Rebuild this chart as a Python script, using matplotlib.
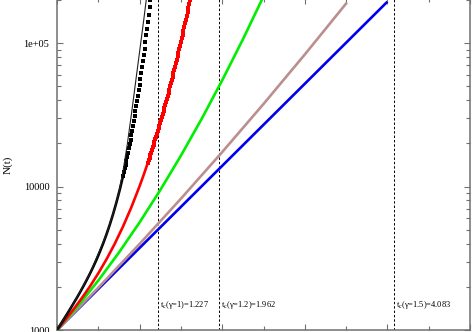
import matplotlib
matplotlib.use('Agg')
import matplotlib.pyplot as plt
from matplotlib.ticker import FixedLocator, FixedFormatter, MultipleLocator, NullFormatter, LogLocator

plt.rcParams['font.family'] = ['Liberation Serif', 'DejaVu Serif']
plt.rcParams['mathtext.fontset'] = 'stix'

# ---------------- data ----------------
# black square-marker series
black_dot_t = [0, 0.04, 0.08, 0.12, 0.16, 0.20, 0.24, 0.28, 0.32, 0.36, 0.40, 0.44, 0.48,
               0.52, 0.56, 0.60, 0.64, 0.68, 0.72, 0.76,
               0.80, 0.81, 0.82, 0.83, 0.84, 0.85, 0.86, 0.87, 0.88, 0.89,
               0.90, 0.91, 0.92, 0.93, 0.94, 0.95, 0.96, 0.97, 0.98, 0.99,
               1.00, 1.01, 1.02, 1.03, 1.04, 1.05, 1.06, 1.07, 1.08, 1.09,
               1.10, 1.11, 1.12, 1.13]
black_dot_n = [1000, 1087, 1183, 1287, 1403, 1532, 1675, 1837, 2022, 2233, 2478, 2767, 3109,
               3523, 4028, 4655, 5444, 6454, 7770, 9513,
               11869, 12584, 13359, 14203, 15120, 16120, 17210, 18402, 19707, 21137,
               22708, 24435, 26337, 28436, 30754, 33323, 36168, 39332, 42855, 46781,
               51168, 56081, 61588, 67779, 74754, 82621, 91509, 101590, 113040, 126070,
               140950, 157950, 177450, 199830]

# thin black line
black_line_t = [0, 0.2, 0.4, 0.6, 0.7, 0.75, 0.8, 0.85, 0.9, 0.95, 1.0, 1.05, 1.1]
black_line_n = [1000, 1532, 2478, 4655, 7063, 9120, 12880, 19500, 31620, 52480, 87100, 144540, 245470]

# red series: dense part (drawn as line) and upper square markers
red_line_t = [0, 0.1, 0.2, 0.3, 0.4, 0.5, 0.6, 0.7, 0.8, 0.9, 1.0, 1.05, 1.1]
red_line_n = [1000, 1177, 1394, 1666, 2018, 2483, 3116, 4001, 5274, 7165, 10060, 12081, 14652]
red_dot_t = [1.10, 1.11, 1.12, 1.13, 1.14, 1.15, 1.16, 1.17, 1.18, 1.19,
             1.20, 1.21, 1.22, 1.23, 1.24, 1.25, 1.26, 1.27, 1.28, 1.29,
             1.30, 1.31, 1.32, 1.33, 1.34, 1.35, 1.36, 1.37, 1.38, 1.39,
             1.40, 1.41, 1.42, 1.43, 1.44, 1.45, 1.46, 1.47, 1.48, 1.49,
             1.50, 1.51, 1.52, 1.53, 1.54, 1.55, 1.56, 1.57, 1.58, 1.59,
             1.60, 1.61, 1.62]
red_dot_n = [14652, 15245, 15870, 16527, 17218, 17945, 18711, 19517, 20368, 21263,
             22209, 23206, 24259, 25371, 26546, 27787, 29099, 30486, 31955, 33511,
             35157, 36902, 38752, 40715, 42797, 45007, 47355, 49849, 52500, 55319,
             58320, 61511, 64913, 68536, 72399, 76519, 80916, 85612, 90623, 95981,
             101714, 107842, 114401, 121426, 128956, 137022, 145677, 154964, 164933, 175650,
             187155, 199531, 212858]

green_t = [0, 0.25, 0.5, 0.75, 1.0, 1.25, 1.5, 1.75, 2.0, 2.25, 2.5]
green_n = [1000, 1462, 2213, 3467, 5623, 9441, 16406, 29512, 54954, 105925, 211349]

pink_t = [0, 0.5, 1.0, 1.5, 2.0, 2.5, 3.0, 3.5, 3.51]
pink_n = [1000, 1972, 3981, 8222, 17378, 37584, 83176, 188365, 191500]

blue_t = [0, 1, 2, 3, 4]
blue_n = [1000, 3733, 13932, 52000, 194089]

tc_values = [1.227, 1.962, 4.083]
tc_labels = [r't$_{\mathrm{c}}$(γ=1)=1.227', r't$_{\mathrm{c}}$(γ=1.2)=1.962', r't$_{\mathrm{c}}$(γ=1.5)=4.083']

ytick_vals = [1e3, 1e4, 1e5]
ytick_labels = ['1000', '10000', '1e+05']

# ---------------- figure ----------------
fig = plt.figure(figsize=(4.74, 3.32), dpi=100)
ax = fig.add_axes([57 / 474, 2 / 332, 413 / 474, 332 / 332])
ax.set_yscale('log')
ax.set_xlim(0, 5)
ax.set_ylim(1000, 205900)

for tc in tc_values:
    ax.axvline(tc, color='black', lw=0.7, ls=(0, (2.5, 2)), zorder=1)
for tc, lab in zip(tc_values, tc_labels):
    ax.text(tc + 0.02, 1490, lab, fontsize=6, ha='left', va='center')

ax.plot(blue_t, blue_n, color='#0000ee', lw=1.9, zorder=2, solid_capstyle='butt')
ax.plot(pink_t, pink_n, color='#bc8f8f', lw=1.9, zorder=3, solid_capstyle='butt')
ax.plot(green_t, green_n, color='#00ee00', lw=1.9, zorder=4, solid_capstyle='butt')
ax.plot(red_line_t, red_line_n, color='#ff0000', lw=1.9, zorder=5, solid_capstyle='butt')
ax.plot(red_dot_t, red_dot_n, ls='none', marker='s', ms=2.5, mew=0, color='#ff0000', zorder=5)
ax.plot(black_dot_t[:21], black_dot_n[:21], color='black', lw=1.9, zorder=6, solid_capstyle='butt')
ax.plot(black_dot_t[20:], black_dot_n[20:], ls='none', marker='s', ms=2.5, mew=0, color='black', zorder=6)
ax.plot(black_line_t, black_line_n, color='#222222', lw=0.8, zorder=7)

# ticks
ax.yaxis.set_major_locator(FixedLocator(ytick_vals))
ax.yaxis.set_major_formatter(FixedFormatter(ytick_labels))
ax.yaxis.set_minor_locator(LogLocator(base=10, subs=range(2, 10)))
ax.yaxis.set_minor_formatter(NullFormatter())
ax.xaxis.set_major_locator(MultipleLocator(1))
ax.xaxis.set_minor_locator(MultipleLocator(0.5))
ax.tick_params(axis='both', which='major', direction='in', length=4.3, width=0.8,
               color='#707070', top=True, right=True, labelsize=7.5, pad=5.5,
               labelbottom=False)
ax.tick_params(axis='both', which='minor', direction='in', length=2.6, width=0.8,
               color='#707070', top=True, right=True)
for sp in ax.spines.values():
    sp.set_color('#707070')
    sp.set_linewidth(1.1)

fig.text(8 / 474, 1 - 165 / 332, 'N(t)', rotation=90, fontsize=8, ha='center', va='center')

fig.savefig('out.png', dpi=100)
